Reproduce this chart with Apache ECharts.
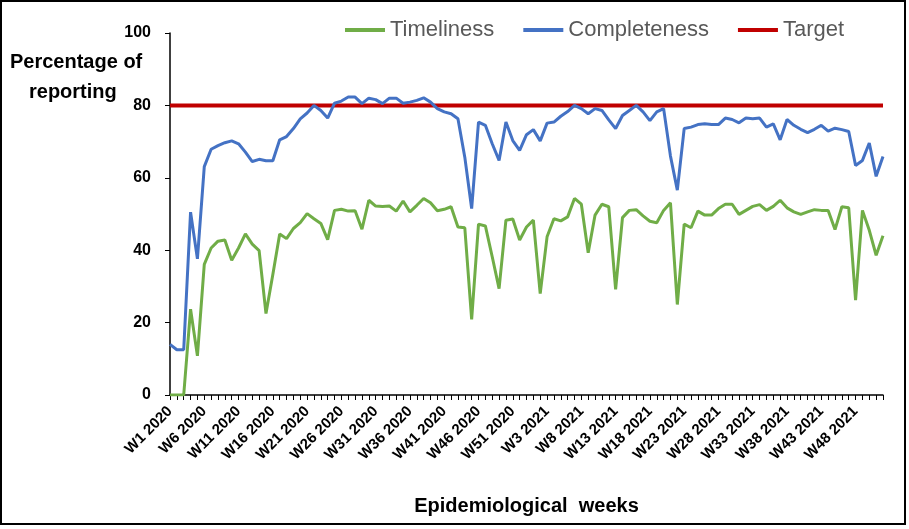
<!DOCTYPE html>
<html>
<head>
<meta charset="utf-8">
<script src="https://cdn.jsdelivr.net/npm/echarts@6/dist/echarts.min.js"></script>
<style>
html,body{margin:0;padding:0;background:#fff;}
#chart{width:909px;height:529px;}
</style>
</head>
<body>
<div id="chart"></div>
<script>
const weeks = [
 'W1 2020','W2 2020','W3 2020','W4 2020','W5 2020','W6 2020','W7 2020','W8 2020','W9 2020','W10 2020',
 'W11 2020','W12 2020','W13 2020','W14 2020','W15 2020','W16 2020','W17 2020','W18 2020','W19 2020','W20 2020',
 'W21 2020','W22 2020','W23 2020','W24 2020','W25 2020','W26 2020','W27 2020','W28 2020','W29 2020','W30 2020',
 'W31 2020','W32 2020','W33 2020','W34 2020','W35 2020','W36 2020','W37 2020','W38 2020','W39 2020','W40 2020',
 'W41 2020','W42 2020','W43 2020','W44 2020','W45 2020','W46 2020','W47 2020','W48 2020','W49 2020','W50 2020',
 'W51 2020','W52 2020','W53 2020',
 'W1 2021','W2 2021','W3 2021','W4 2021','W5 2021','W6 2021','W7 2021','W8 2021','W9 2021','W10 2021',
 'W11 2021','W12 2021','W13 2021','W14 2021','W15 2021','W16 2021','W17 2021','W18 2021','W19 2021','W20 2021',
 'W21 2021','W22 2021','W23 2021','W24 2021','W25 2021','W26 2021','W27 2021','W28 2021','W29 2021','W30 2021',
 'W31 2021','W32 2021','W33 2021','W34 2021','W35 2021','W36 2021','W37 2021','W38 2021','W39 2021','W40 2021',
 'W41 2021','W42 2021','W43 2021','W44 2021','W45 2021','W46 2021','W47 2021','W48 2021','W49 2021','W50 2021',
 'W51 2021','W52 2021'
];

const timeliness = [
 0,0,0,23.7,10.8,36.1,40.6,42.5,42.8,37.2,
 40.6,44.5,41.7,39.9,22.5,33.3,44.5,43.2,46.0,47.6,
 50.1,48.7,47.4,42.9,51.0,51.3,50.8,50.9,45.8,53.8,
 52.2,52.1,52.2,50.8,53.6,50.6,52.4,54.3,53.1,50.9,
 51.3,52.0,46.4,46.2,20.9,47.2,46.7,38.2,29.4,48.3,
 48.6,42.8,46.4,48.3,28.0,43.7,48.7,48.1,49.2,54.3,
 52.7,39.3,49.7,52.7,52.0,29.2,49.0,51.0,51.2,49.5,
 48.0,47.6,51.0,53.1,25.0,47.2,46.2,50.8,49.7,49.7,
 51.5,52.7,52.7,49.9,51.0,52.1,52.6,51.0,52.1,53.8,
 51.7,50.6,49.9,50.6,51.2,51.0,51.0,45.7,52.0,51.7,
 26.2,51.0,45.5,38.6,44.0
];

const completeness = [
 14.0,12.5,12.5,50.5,37.6,63.1,67.9,68.9,69.7,70.2,
 69.4,67.1,64.5,65.1,64.7,64.7,70.5,71.4,73.6,76.3,
 77.9,80.0,78.6,76.5,80.6,81.2,82.3,82.3,80.5,82.0,
 81.6,80.5,82.0,82.0,80.6,80.9,81.4,82.1,80.9,79.1,
 78.2,77.7,76.3,65.7,51.5,75.4,74.5,69.4,64.8,75.4,
 70.3,67.6,71.9,73.3,70.2,75.1,75.4,77.0,78.3,80.0,
 79.1,77.7,79.1,78.6,76.0,73.6,77.2,78.6,80.0,78.2,
 75.8,78.2,79.1,66.0,56.6,73.6,74.0,74.7,74.9,74.7,
 74.7,76.5,76.1,75.2,76.5,76.3,76.5,74.0,74.9,70.5,
 76.1,74.5,73.4,72.5,73.4,74.5,72.9,73.7,73.3,72.8,
 63.4,64.8,69.6,60.4,65.9
];

const TARGET = 80;
const target = weeks.map(() => TARGET);

const yTicks = [0, 20, 40, 60, 80, 100];

const FONT = "'Liberation Sans', Arial, sans-serif";

const chart = echarts.init(document.getElementById('chart'));
chart.setOption({
  animation: false,
  backgroundColor: '#fff',
  textStyle: { fontFamily: FONT },
  grid: { left: 170, right: 26, top: 33, bottom: 134, containLabel: false },
  legend: {
    left: 340, top: 14,
    itemWidth: 40, itemHeight: 4, itemGap: 29,
    icon: 'rect',
    textStyle: { color: '#595959', fontSize: 22, fontFamily: FONT },
    data: ['Timeliness', 'Completeness', 'Target']
  },
  xAxis: {
    type: 'category',
    data: weeks,
    boundaryGap: false,
    axisLine: { lineStyle: { color: '#000', width: 1.5 } },
    axisTick: { show: true, interval: 0, length: 5, lineStyle: { color: '#000', width: 1 } },
    axisLabel: {
      interval: 4, rotate: 45, color: '#000', fontWeight: 'bold',
      fontSize: 15, margin: 14, fontFamily: FONT
    },
    name: 'Epidemiological  weeks',
    nameLocation: 'middle',
    nameGap: 101,
    nameTextStyle: { color: '#000', fontWeight: 'bold', fontSize: 20, fontFamily: FONT }
  },
  yAxis: {
    type: 'value',
    min: 0, max: 100, interval: 20,
    axisLine: { show: true, lineStyle: { color: '#000', width: 1.5 } },
    axisTick: { show: true, length: 5, lineStyle: { color: '#000' } },
    splitLine: { show: false },
    axisLabel: { color: '#000', fontWeight: 'bold', fontSize: 16, margin: 19, fontFamily: FONT,
      formatter: v => yTicks.includes(v) ? String(v) : '' }
  },
  graphic: [
    { type: 'rect', shape: { x: 1, y: 1, width: 904, height: 523 },
      style: { fill: 'none', stroke: '#000', lineWidth: 2 }, silent: true },
    { type: 'text', left: 10, top: 52,
      style: { text: 'Percentage of', fill: '#000', font: "bold 20px 'Liberation Sans', Arial, sans-serif" } },
    { type: 'text', left: 29, top: 82,
      style: { text: 'reporting', fill: '#000', font: "bold 20px 'Liberation Sans', Arial, sans-serif" } }
  ],
  series: [
    { name: 'Timeliness', type: 'line', data: timeliness, symbol: 'none',
      itemStyle: { color: '#70AD47' }, lineStyle: { color: '#70AD47', width: 3 }, z: 3 },
    { name: 'Completeness', type: 'line', data: completeness, symbol: 'none',
      itemStyle: { color: '#4472C4' }, lineStyle: { color: '#4472C4', width: 3 }, z: 3 },
    { name: 'Target', type: 'line', data: target, symbol: 'none',
      itemStyle: { color: '#C00000' }, lineStyle: { color: '#C00000', width: 4 }, z: 2 }
  ]
});
</script>
</body>
</html>
